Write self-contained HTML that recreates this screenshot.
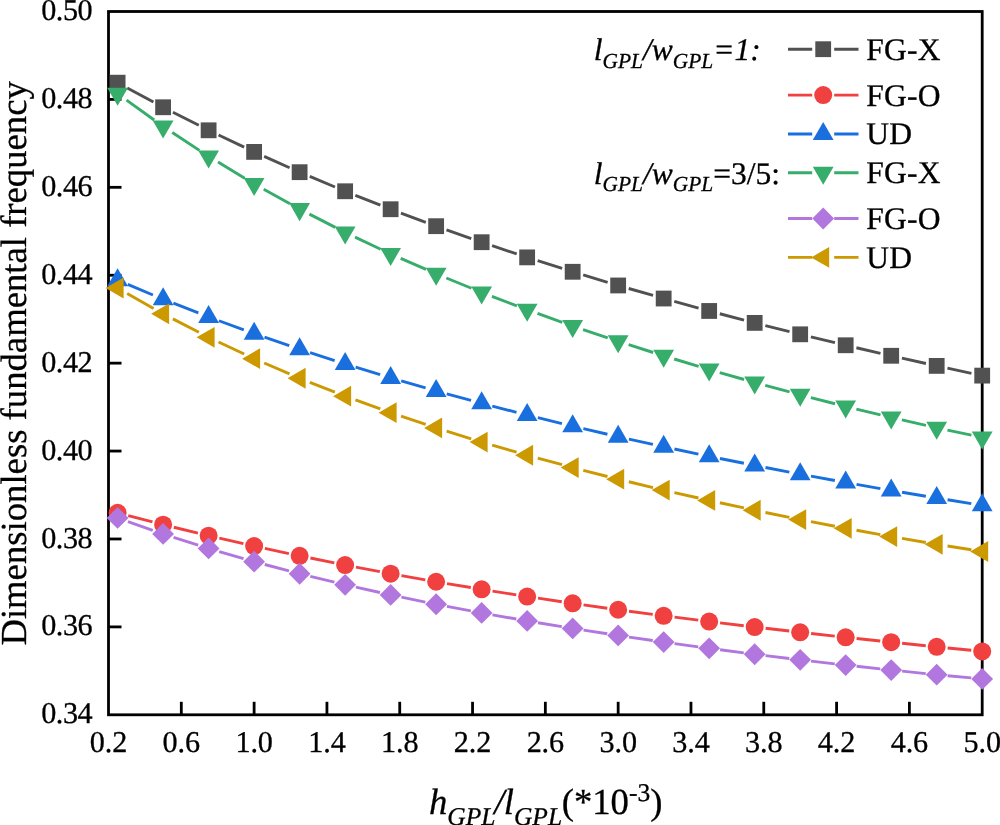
<!DOCTYPE html>
<html lang="en"><head><meta charset="utf-8"><title>Dimensionless fundamental frequency</title>
<style>
html,body{margin:0;padding:0;background:#fff;}
body{width:1000px;height:825px;overflow:hidden;}
svg{display:block;text-rendering:geometricPrecision;font-family:"Liberation Serif",serif;fill:#000;}
text{stroke:#000;stroke-width:0.3px;}
.it{font-style:italic;}
</style></head><body>
<svg width="1000" height="825" viewBox="0 0 1000 825">
<rect width="1000" height="825" fill="#fff"/>
<g stroke="#000" stroke-width="2.8" fill="none"><line x1="181.31" y1="714.80" x2="181.31" y2="701.80"/><line x1="254.12" y1="714.80" x2="254.12" y2="701.80"/><line x1="326.93" y1="714.80" x2="326.93" y2="701.80"/><line x1="399.73" y1="714.80" x2="399.73" y2="701.80"/><line x1="472.54" y1="714.80" x2="472.54" y2="701.80"/><line x1="545.35" y1="714.80" x2="545.35" y2="701.80"/><line x1="618.16" y1="714.80" x2="618.16" y2="701.80"/><line x1="690.97" y1="714.80" x2="690.97" y2="701.80"/><line x1="763.77" y1="714.80" x2="763.77" y2="701.80"/><line x1="836.58" y1="714.80" x2="836.58" y2="701.80"/><line x1="909.39" y1="714.80" x2="909.39" y2="701.80"/><line x1="108.50" y1="99.41" x2="121.50" y2="99.41"/><line x1="108.50" y1="187.32" x2="121.50" y2="187.32"/><line x1="108.50" y1="275.24" x2="121.50" y2="275.24"/><line x1="108.50" y1="363.15" x2="121.50" y2="363.15"/><line x1="108.50" y1="451.06" x2="121.50" y2="451.06"/><line x1="108.50" y1="538.97" x2="121.50" y2="538.97"/><line x1="108.50" y1="626.89" x2="121.50" y2="626.89"/></g>
<rect x="108.50" y="11.50" width="873.70" height="703.30" fill="none" stroke="#000" stroke-width="2.8"/>
<path d="M127.28 87.92L153.43 102.04M172.92 112.23L198.80 125.33M218.55 135.01L244.18 147.18M264.16 156.37L289.58 167.70M309.77 176.44L334.98 187.01M355.36 195.30L380.40 205.19M400.94 213.07L425.83 222.34M446.51 229.83L471.27 238.55M492.08 245.68L516.71 253.90M537.64 260.70L562.17 268.46M583.19 274.95L607.62 282.30M628.73 288.50L653.09 295.48M674.27 301.42L698.56 308.07M719.81 313.76L744.03 320.10M765.34 325.57L789.51 331.63M810.87 336.88L834.99 342.69M856.40 347.74L880.47 353.30M901.93 358.17L925.96 363.51M947.45 368.19L971.44 373.32" stroke="#515151" stroke-width="2.9" fill="none"/>
<g><rect x="109.70" y="74.79" width="15.8" height="15.8" fill="#515151"/><rect x="155.21" y="99.36" width="15.8" height="15.8" fill="#515151"/><rect x="200.71" y="122.39" width="15.8" height="15.8" fill="#515151"/><rect x="246.22" y="144.00" width="15.8" height="15.8" fill="#515151"/><rect x="291.72" y="164.28" width="15.8" height="15.8" fill="#515151"/><rect x="337.23" y="183.36" width="15.8" height="15.8" fill="#515151"/><rect x="382.73" y="201.33" width="15.8" height="15.8" fill="#515151"/><rect x="428.24" y="218.28" width="15.8" height="15.8" fill="#515151"/><rect x="473.74" y="234.30" width="15.8" height="15.8" fill="#515151"/><rect x="519.25" y="249.48" width="15.8" height="15.8" fill="#515151"/><rect x="564.75" y="263.88" width="15.8" height="15.8" fill="#515151"/><rect x="610.26" y="277.57" width="15.8" height="15.8" fill="#515151"/><rect x="655.76" y="290.62" width="15.8" height="15.8" fill="#515151"/><rect x="701.27" y="303.07" width="15.8" height="15.8" fill="#515151"/><rect x="746.77" y="314.99" width="15.8" height="15.8" fill="#515151"/><rect x="792.28" y="326.41" width="15.8" height="15.8" fill="#515151"/><rect x="837.78" y="337.36" width="15.8" height="15.8" fill="#515151"/><rect x="883.29" y="347.88" width="15.8" height="15.8" fill="#515151"/><rect x="928.79" y="357.99" width="15.8" height="15.8" fill="#515151"/><rect x="974.30" y="367.71" width="15.8" height="15.8" fill="#515151"/></g>
<path d="M128.25 515.61L152.46 521.88M173.79 527.24L197.92 533.11M219.34 538.16L243.39 543.65M264.87 548.41L288.87 553.56M310.41 558.04L334.34 562.86M355.94 567.08L379.82 571.60M401.46 575.58L425.31 579.82M446.99 583.57L470.79 587.55M492.51 591.09L516.28 594.84M538.03 598.17L561.77 601.71M583.55 604.86L607.27 608.20M629.06 611.19L652.76 614.35M674.58 617.18L698.26 620.18M720.09 622.88L743.75 625.74M765.60 628.31L789.25 631.04M811.11 633.51L834.75 636.12M856.62 638.49L880.25 641.00M902.13 643.29L925.75 645.73M947.64 647.95L971.25 650.31" stroke="#F14040" stroke-width="2.9" fill="none"/>
<g><circle cx="117.60" cy="512.85" r="9" fill="#F14040"/><circle cx="163.11" cy="524.64" r="9" fill="#F14040"/><circle cx="208.61" cy="535.71" r="9" fill="#F14040"/><circle cx="254.12" cy="546.10" r="9" fill="#F14040"/><circle cx="299.62" cy="555.87" r="9" fill="#F14040"/><circle cx="345.13" cy="565.03" r="9" fill="#F14040"/><circle cx="390.63" cy="573.65" r="9" fill="#F14040"/><circle cx="436.14" cy="581.75" r="9" fill="#F14040"/><circle cx="481.64" cy="589.37" r="9" fill="#F14040"/><circle cx="527.15" cy="596.55" r="9" fill="#F14040"/><circle cx="572.65" cy="603.33" r="9" fill="#F14040"/><circle cx="618.16" cy="609.74" r="9" fill="#F14040"/><circle cx="663.66" cy="615.80" r="9" fill="#F14040"/><circle cx="709.17" cy="621.57" r="9" fill="#F14040"/><circle cx="754.67" cy="627.05" r="9" fill="#F14040"/><circle cx="800.18" cy="632.30" r="9" fill="#F14040"/><circle cx="845.68" cy="637.33" r="9" fill="#F14040"/><circle cx="891.19" cy="642.17" r="9" fill="#F14040"/><circle cx="936.69" cy="646.85" r="9" fill="#F14040"/><circle cx="982.20" cy="651.40" r="9" fill="#F14040"/></g>
<path d="M127.75 284.46L152.95 294.97M173.35 303.20L198.37 312.97M218.94 320.76L243.79 329.87M264.52 337.23L289.22 345.73M310.09 352.69L334.66 360.64M355.65 367.23L380.11 374.69M401.20 380.93L425.57 387.93M446.75 393.86L471.03 400.45M492.30 406.08L516.49 412.30M537.83 417.65L561.97 423.54M583.37 428.63L607.44 434.22M628.90 439.07L652.92 444.37M674.43 449.01L698.40 454.05M719.95 458.48L743.89 463.28M765.48 467.52L789.38 472.10M811.00 476.15L834.86 480.52M856.52 484.40L880.35 488.57M902.04 492.27L925.84 496.24M947.56 499.78L971.34 503.56" stroke="#1A6FDF" stroke-width="2.9" fill="none"/>
<g><polygon points="107.20,286.23 128.00,286.23 117.60,268.21" fill="#1A6FDF"/><polygon points="152.71,305.20 173.51,305.20 163.11,287.19" fill="#1A6FDF"/><polygon points="198.21,322.98 219.01,322.98 208.61,304.97" fill="#1A6FDF"/><polygon points="243.72,339.65 264.52,339.65 254.12,321.64" fill="#1A6FDF"/><polygon points="289.22,355.31 310.02,355.31 299.62,337.30" fill="#1A6FDF"/><polygon points="334.73,370.03 355.53,370.03 345.13,352.02" fill="#1A6FDF"/><polygon points="380.23,383.90 401.03,383.90 390.63,365.88" fill="#1A6FDF"/><polygon points="425.74,396.98 446.54,396.98 436.14,378.96" fill="#1A6FDF"/><polygon points="471.24,409.34 492.04,409.34 481.64,391.33" fill="#1A6FDF"/><polygon points="516.75,421.05 537.55,421.05 527.15,403.03" fill="#1A6FDF"/><polygon points="562.25,432.15 583.05,432.15 572.65,414.14" fill="#1A6FDF"/><polygon points="607.76,442.70 628.56,442.70 618.16,424.69" fill="#1A6FDF"/><polygon points="653.26,452.75 674.06,452.75 663.66,434.73" fill="#1A6FDF"/><polygon points="698.77,462.32 719.57,462.32 709.17,444.31" fill="#1A6FDF"/><polygon points="744.27,471.45 765.07,471.45 754.67,453.44" fill="#1A6FDF"/><polygon points="789.78,480.18 810.58,480.18 800.18,462.16" fill="#1A6FDF"/><polygon points="835.28,488.51 856.08,488.51 845.68,470.49" fill="#1A6FDF"/><polygon points="880.79,496.46 901.59,496.46 891.19,478.45" fill="#1A6FDF"/><polygon points="926.29,504.06 947.09,504.06 936.69,486.04" fill="#1A6FDF"/><polygon points="971.80,511.29 992.60,511.29 982.20,493.27" fill="#1A6FDF"/></g>
<path d="M126.53 100.10L154.18 120.00M172.29 132.48L199.43 150.35M218.03 162.09L244.70 178.19M263.74 189.22L290.00 203.79M309.42 214.14L335.33 227.38M355.07 237.09L380.69 249.19M400.71 258.31L426.06 269.42M446.32 277.99L471.46 288.24M491.92 296.32L516.87 305.83M537.51 313.46L562.30 322.33M583.08 329.54L607.73 337.85M628.64 344.69L653.18 352.50M674.20 359.01L698.64 366.37M719.75 372.56L744.10 379.51M765.29 385.40L789.56 391.97M810.84 397.58L835.03 403.77M856.38 409.09L880.50 414.92M901.92 419.93L925.97 425.38M947.46 430.08L971.44 435.13" stroke="#37AD6B" stroke-width="2.9" fill="none"/>
<g><polygon points="107.20,87.67 128.00,87.67 117.60,105.68" fill="#37AD6B"/><polygon points="152.71,120.42 173.51,120.42 163.11,138.44" fill="#37AD6B"/><polygon points="198.21,150.40 219.01,150.40 208.61,168.41" fill="#37AD6B"/><polygon points="243.72,177.88 264.52,177.88 254.12,195.89" fill="#37AD6B"/><polygon points="289.22,203.12 310.02,203.12 299.62,221.14" fill="#37AD6B"/><polygon points="334.73,226.39 355.53,226.39 345.13,244.40" fill="#37AD6B"/><polygon points="380.23,247.89 401.03,247.89 390.63,265.90" fill="#37AD6B"/><polygon points="425.74,267.83 446.54,267.83 436.14,285.84" fill="#37AD6B"/><polygon points="471.24,286.40 492.04,286.40 481.64,304.41" fill="#37AD6B"/><polygon points="516.75,303.75 537.55,303.75 527.15,321.76" fill="#37AD6B"/><polygon points="562.25,320.03 583.05,320.03 572.65,338.04" fill="#37AD6B"/><polygon points="607.76,335.36 628.56,335.36 618.16,353.37" fill="#37AD6B"/><polygon points="653.26,349.83 674.06,349.83 663.66,367.85" fill="#37AD6B"/><polygon points="698.77,363.54 719.57,363.54 709.17,381.55" fill="#37AD6B"/><polygon points="744.27,376.53 765.07,376.53 754.67,394.54" fill="#37AD6B"/><polygon points="789.78,388.84 810.58,388.84 800.18,406.85" fill="#37AD6B"/><polygon points="835.28,400.50 856.08,400.50 845.68,418.51" fill="#37AD6B"/><polygon points="880.79,411.50 901.59,411.50 891.19,429.51" fill="#37AD6B"/><polygon points="926.29,421.81 947.09,421.81 936.69,439.82" fill="#37AD6B"/><polygon points="971.80,431.40 992.60,431.40 982.20,449.41" fill="#37AD6B"/></g>
<path d="M127.98 521.58L152.73 530.27M173.58 537.27L198.13 545.10M219.17 551.52L243.55 558.61M264.75 564.50L288.99 570.93M310.31 576.34L334.44 582.19M355.86 587.18L379.90 592.53M401.41 597.14L425.36 602.05M446.94 606.32L470.84 610.86M492.48 614.82L516.32 619.03M538.00 622.73L561.80 626.65M583.52 630.12L607.29 633.79M629.04 637.06L652.78 640.51M674.56 643.59L698.27 646.84M720.08 649.75L743.77 652.83M765.59 655.58L789.26 658.49M811.11 661.09L834.76 663.83M856.62 666.29L880.25 668.86M902.13 671.16L925.75 673.57M947.65 675.71L971.25 677.92" stroke="#B177DE" stroke-width="2.9" fill="none"/>
<g><polygon points="106.70,517.93 117.60,507.03 128.50,517.93 117.60,528.83" fill="#B177DE"/><polygon points="152.21,533.92 163.11,523.02 174.01,533.92 163.11,544.82" fill="#B177DE"/><polygon points="197.71,548.45 208.61,537.55 219.51,548.45 208.61,559.35" fill="#B177DE"/><polygon points="243.22,561.68 254.12,550.78 265.02,561.68 254.12,572.58" fill="#B177DE"/><polygon points="288.72,573.75 299.62,562.85 310.52,573.75 299.62,584.65" fill="#B177DE"/><polygon points="334.23,584.79 345.13,573.89 356.03,584.79 345.13,595.69" fill="#B177DE"/><polygon points="379.73,594.92 390.63,584.02 401.53,594.92 390.63,605.82" fill="#B177DE"/><polygon points="425.24,604.27 436.14,593.37 447.04,604.27 436.14,615.17" fill="#B177DE"/><polygon points="470.74,612.91 481.64,602.01 492.54,612.91 481.64,623.81" fill="#B177DE"/><polygon points="516.25,620.94 527.15,610.04 538.05,620.94 527.15,631.84" fill="#B177DE"/><polygon points="561.75,628.44 572.65,617.54 583.55,628.44 572.65,639.34" fill="#B177DE"/><polygon points="607.26,635.47 618.16,624.57 629.06,635.47 618.16,646.37" fill="#B177DE"/><polygon points="652.76,642.09 663.66,631.19 674.56,642.09 663.66,652.99" fill="#B177DE"/><polygon points="698.27,648.34 709.17,637.44 720.07,648.34 709.17,659.24" fill="#B177DE"/><polygon points="743.77,654.24 754.67,643.34 765.57,654.24 754.67,665.14" fill="#B177DE"/><polygon points="789.28,659.82 800.18,648.92 811.08,659.82 800.18,670.72" fill="#B177DE"/><polygon points="834.78,665.10 845.68,654.20 856.58,665.10 845.68,676.00" fill="#B177DE"/><polygon points="880.29,670.05 891.19,659.15 902.09,670.05 891.19,680.95" fill="#B177DE"/><polygon points="925.79,674.68 936.69,663.78 947.59,674.68 936.69,685.58" fill="#B177DE"/><polygon points="971.30,678.95 982.20,668.05 993.10,678.95 982.20,689.85" fill="#B177DE"/></g>
<path d="M127.17 293.44L153.54 308.39M172.88 318.85L198.84 332.24M218.56 341.97L244.16 354.01M264.22 363.04L289.52 373.92M309.86 382.30L334.89 392.17M355.47 399.95L380.29 408.96M401.06 416.20L425.71 424.46M446.64 431.22L471.14 438.83M492.21 445.15L516.58 452.21M537.76 458.15L562.04 464.72M583.31 470.32L607.50 476.48M628.85 481.76L652.97 487.55M674.39 492.56L698.44 498.03M719.92 502.78L743.92 507.95M765.45 512.46L789.40 517.35M810.98 521.63L834.88 526.24M856.51 530.29L880.37 534.63M902.03 538.44L925.85 542.49M947.56 546.05L971.33 549.79" stroke="#CC9900" stroke-width="2.9" fill="none"/>
<g><polygon points="123.61,277.61 123.61,298.41 105.59,288.01" fill="#CC9900"/><polygon points="169.11,303.41 169.11,324.21 151.10,313.81" fill="#CC9900"/><polygon points="214.62,326.89 214.62,347.69 196.60,337.29" fill="#CC9900"/><polygon points="260.12,348.30 260.12,369.10 242.11,358.70" fill="#CC9900"/><polygon points="305.63,367.86 305.63,388.66 287.61,378.26" fill="#CC9900"/><polygon points="351.13,385.80 351.13,406.60 333.12,396.20" fill="#CC9900"/><polygon points="396.64,402.31 396.64,423.11 378.62,412.71" fill="#CC9900"/><polygon points="442.14,417.55 442.14,438.35 424.13,427.95" fill="#CC9900"/><polygon points="487.65,431.69 487.65,452.49 469.63,442.09" fill="#CC9900"/><polygon points="533.15,444.87 533.15,465.67 515.14,455.27" fill="#CC9900"/><polygon points="578.66,457.20 578.66,478.00 560.64,467.60" fill="#CC9900"/><polygon points="624.16,468.79 624.16,489.59 606.15,479.19" fill="#CC9900"/><polygon points="669.67,479.72 669.67,500.52 651.65,490.12" fill="#CC9900"/><polygon points="715.17,490.06 715.17,510.86 697.16,500.46" fill="#CC9900"/><polygon points="760.68,499.86 760.68,520.66 742.67,510.26" fill="#CC9900"/><polygon points="806.18,509.15 806.18,529.95 788.17,519.55" fill="#CC9900"/><polygon points="851.69,517.93 851.69,538.73 833.68,528.33" fill="#CC9900"/><polygon points="897.19,526.20 897.19,547.00 879.18,536.60" fill="#CC9900"/><polygon points="942.70,533.94 942.70,554.74 924.69,544.34" fill="#CC9900"/><polygon points="988.20,541.10 988.20,561.90 970.19,551.50" fill="#CC9900"/></g>
<g font-size="30.2" letter-spacing="-0.45"><text x="108.50" y="752.0" text-anchor="middle" letter-spacing="-0.1">0.2</text><text x="181.31" y="752.0" text-anchor="middle" letter-spacing="-0.1">0.6</text><text x="254.12" y="752.0" text-anchor="middle" letter-spacing="-0.1">1.0</text><text x="326.93" y="752.0" text-anchor="middle" letter-spacing="-0.1">1.4</text><text x="399.73" y="752.0" text-anchor="middle" letter-spacing="-0.1">1.8</text><text x="472.54" y="752.0" text-anchor="middle" letter-spacing="-0.1">2.2</text><text x="545.35" y="752.0" text-anchor="middle" letter-spacing="-0.1">2.6</text><text x="618.16" y="752.0" text-anchor="middle" letter-spacing="-0.1">3.0</text><text x="690.97" y="752.0" text-anchor="middle" letter-spacing="-0.1">3.4</text><text x="763.77" y="752.0" text-anchor="middle" letter-spacing="-0.1">3.8</text><text x="836.58" y="752.0" text-anchor="middle" letter-spacing="-0.1">4.2</text><text x="909.39" y="752.0" text-anchor="middle" letter-spacing="-0.1">4.6</text><text x="982.20" y="752.0" text-anchor="middle" letter-spacing="-0.1">5.0</text><text x="92.2" y="20.10" text-anchor="end">0.50</text><text x="92.2" y="108.01" text-anchor="end">0.48</text><text x="92.2" y="195.92" text-anchor="end">0.46</text><text x="92.2" y="283.84" text-anchor="end">0.44</text><text x="92.2" y="371.75" text-anchor="end">0.42</text><text x="92.2" y="459.66" text-anchor="end">0.40</text><text x="92.2" y="547.57" text-anchor="end">0.38</text><text x="92.2" y="635.49" text-anchor="end">0.36</text><text x="92.2" y="723.40" text-anchor="end">0.34</text></g>
<text transform="translate(26 363.4) rotate(-90)" text-anchor="middle" font-size="36.7">Dimensionless fundamental frequency</text>
<text x="429" y="814" font-size="36.7"><tspan class="it">h</tspan><tspan class="it" font-size="25.51" dy="10.5">GPL</tspan><tspan class="it" dy="-10.5" dx="-1.2">/</tspan><tspan class="it" dx="-0.8">l</tspan><tspan class="it" font-size="25.51" dy="10.5">GPL</tspan><tspan dy="-10.5" dx="-0.4">(*10</tspan><tspan font-size="25.51" dy="-13.2">-3</tspan><tspan dy="13.2">)</tspan></text>
<path d="M788 49.2H812.2M834.2 49.2H858.5" stroke="#515151" stroke-width="2.9" fill="none"/>
<rect x="815.30" y="41.30" width="15.8" height="15.8" fill="#515151"/>
<text x="866.2" y="59.6" font-size="31.5" letter-spacing="0.3">FG-X</text>
<path d="M788 95.1H812.2M834.2 95.1H858.5" stroke="#F14040" stroke-width="2.9" fill="none"/>
<circle cx="823.20" cy="95.10" r="9" fill="#F14040"/>
<text x="866.2" y="105.5" font-size="31.5" letter-spacing="0.3">FG-O</text>
<path d="M788 134.0H812.2M834.2 134.0H858.5" stroke="#1A6FDF" stroke-width="2.9" fill="none"/>
<polygon points="812.80,140.00 833.60,140.00 823.20,121.99" fill="#1A6FDF"/>
<text x="866.2" y="144.4" font-size="31.5" letter-spacing="0.3">UD</text>
<path d="M788 172.8H812.2M834.2 172.8H858.5" stroke="#37AD6B" stroke-width="2.9" fill="none"/>
<polygon points="812.80,166.80 833.60,166.80 823.20,184.81" fill="#37AD6B"/>
<text x="866.2" y="183.2" font-size="31.5" letter-spacing="0.3">FG-X</text>
<path d="M788 218.5H812.2M834.2 218.5H858.5" stroke="#B177DE" stroke-width="2.9" fill="none"/>
<polygon points="812.30,218.50 823.20,207.60 834.10,218.50 823.20,229.40" fill="#B177DE"/>
<text x="866.2" y="228.9" font-size="31.5" letter-spacing="0.3">FG-O</text>
<path d="M788 257.4H812.2M834.2 257.4H858.5" stroke="#CC9900" stroke-width="2.9" fill="none"/>
<polygon points="829.20,247.00 829.20,267.80 811.19,257.40" fill="#CC9900"/>
<text x="866.2" y="267.8" font-size="31.5" letter-spacing="0.3">UD</text>
<text x="593.8" y="60.2" font-size="31.5"><tspan class="it">l</tspan><tspan class="it" font-size="21.42" dy="7.5">GPL</tspan><tspan class="it" dy="-7.5">/w</tspan><tspan class="it" font-size="21.42" dy="7.5">GPL</tspan><tspan class="it" dy="-7.5">=1:</tspan></text>
<text x="593.8" y="183.8" font-size="31.5"><tspan class="it">l</tspan><tspan class="it" font-size="21.42" dy="7.5">GPL</tspan><tspan class="it" dy="-7.5">/w</tspan><tspan class="it" font-size="21.42" dy="7.5">GPL</tspan><tspan dy="-7.5">=3/5:</tspan></text>
</svg></body></html>
